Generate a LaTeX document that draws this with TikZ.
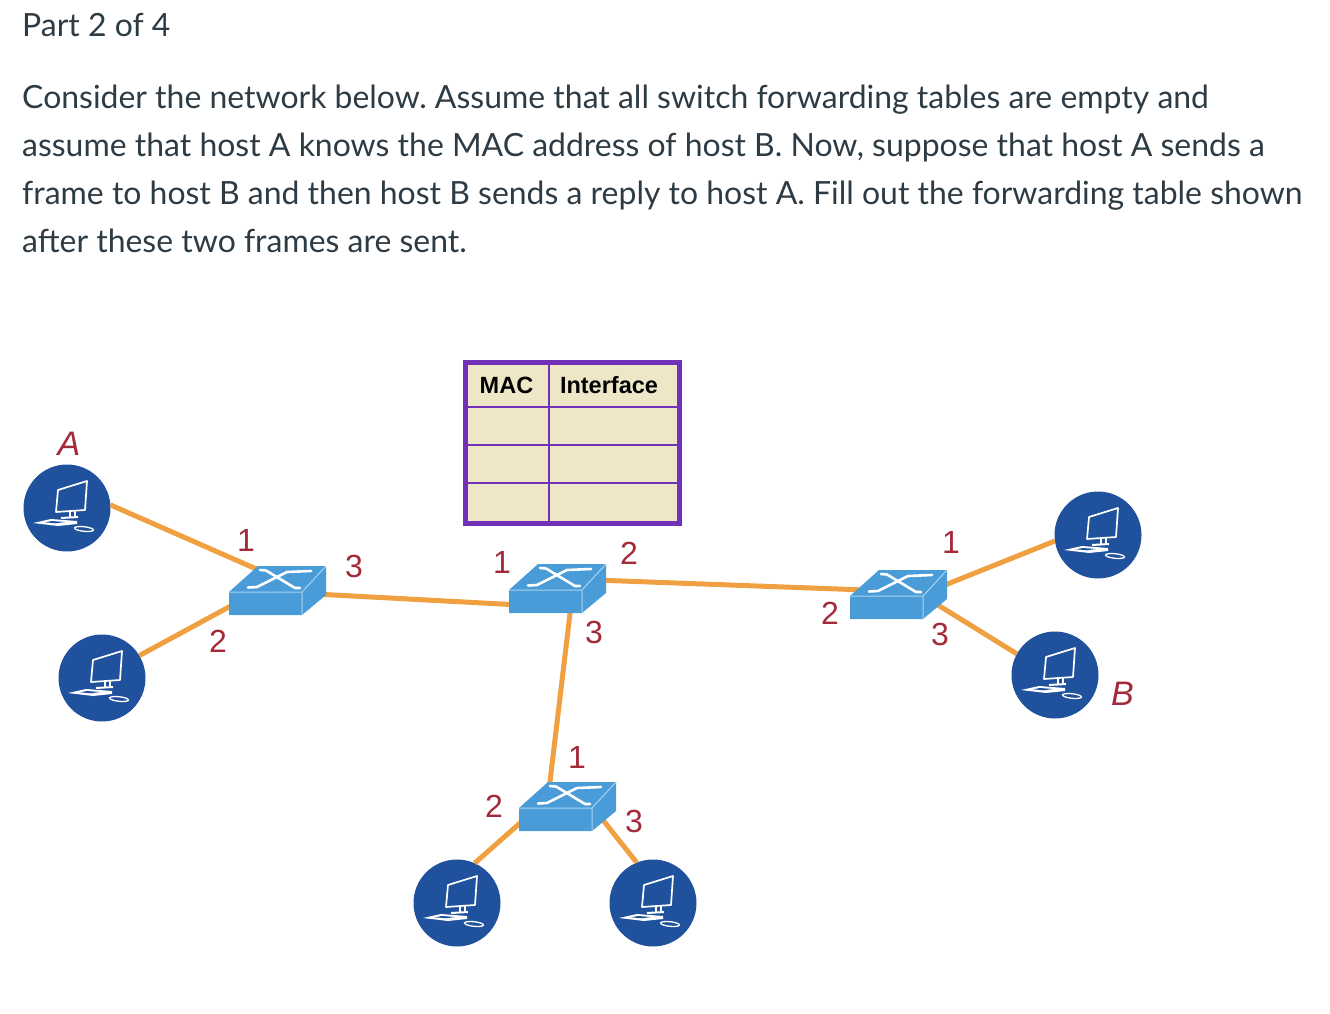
\documentclass[tikz,border=0pt]{standalone}
\usepackage{fontspec}
\setmainfont{Lato}
\newfontfamily\arialf{Liberation Sans}
\definecolor{txt}{HTML}{2D3B45}
\definecolor{lbl}{HTML}{A32A38}
\definecolor{hostc}{HTML}{20519C}
\definecolor{wire}{HTML}{F0A040}
\definecolor{swc}{HTML}{4A9CD8}
\definecolor{swl}{HTML}{A8D4F0}
\definecolor{tbf}{HTML}{EDE7C8}
\definecolor{tbl}{HTML}{7030B8}
\tikzset{
  para/.style={anchor=base west,inner sep=0pt,text=txt,font=\frenchspacing\fontsize{31.95}{32}\selectfont},
  num/.style={inner sep=0pt,text=lbl,font=\arialf\fontsize{32}{32}\selectfont},
  hostname/.style={inner sep=0pt,text=lbl,font=\arialf\itshape\fontsize{34}{34}\selectfont},
  host/.style={circle,fill=hostc,minimum size=87pt,inner sep=0pt},
  wirestyle/.style={draw=wire,line width=5pt},
  port/.style={inner sep=0pt,minimum size=0pt},
  head/.style={inner sep=0pt,text=black,font=\arialf\bfseries\fontsize{23.5}{24}\selectfont},
  pics/computer/.style={code={
    \draw[white,line width=1.7pt,line join=round] (-9,-18) -- (20,-27) -- (18,2) -- (-11,4) -- cycle;
    \draw[white,line width=1.5pt] (3,3) -- (3,9) (8,3) -- (8,9);
    \draw[white,line width=2pt] (-6,10) -- (11,9);
    \fill[white] (-34,15) -- (-16,11) -- (10,13) -- (10,16) -- (-9,18) -- cycle;
    \fill[hostc] (-22,14.3) -- (-15,13) -- (-2,14) -- (-11,15.3) -- cycle;
    \draw[white,line width=1.3pt] (17,21) ellipse[x radius=9.5,y radius=2.3,rotate=-6];
  }},
  pics/switch/.style={code={
    \fill[swc] (0,0) -- (29,-26) -- (97,-26) -- (97,3) -- (73,23) -- (0,23) -- cycle;
    \draw[swl,line width=1pt,line join=round] (0,0) -- (73,0) -- (97,-26) (73,0) -- (73,23);
    \draw[white,line width=2.6pt,line cap=round,line join=round] (19,-4.5) -- (28,-5) -- (58,-20) -- (82,-21);
    \draw[white,line width=2.6pt,line cap=round,line join=round] (31,-22) -- (37,-21.5) -- (66,-4) -- (71,-4);
  }}
}
\begin{document}
\begin{tikzpicture}[x=1pt,y=-1pt]
\useasboundingbox (0,0) rectangle (1330,1014);
% text
\node[para] (t0) at (22,37) {Part 2 of 4};
\node[para] (t1) at (22,109) {Consider the network below. Assume that all switch forwarding tables are empty and};
\node[para] (t2) at (22,157) {assume that host A knows the MAC address of host B. Now, suppose that host A sends a};
\node[para] (t3) at (22,204.5) {frame to host B and then host B sends a reply to host A. Fill out the forwarding table shown};
\node[para] (t4) at (22,252.5) {after these two frames are sent.};
% hosts
\node[host] (hA) at (67,508) {}; \pic at (hA) {computer};
\node[host] (hL) at (102,678) {}; \pic at (hL) {computer};
\node[host] (hR) at (1098,535) {}; \pic at (hR) {computer};
\node[host] (hB) at (1055,675) {}; \pic at (hB) {computer};
\node[host] (hM) at (457,903) {}; \pic at (hM) {computer};
\node[host] (hN) at (653,903) {}; \pic at (hN) {computer};
% switch ports
\node[port] (s1a) at (270,575) {};
\node[port] (s1b) at (240,601) {};
\node[port] (s1c) at (315,594) {};
\node[port] (s2a) at (520,605) {};
\node[port] (s2b) at (595,580) {};
\node[port] (s2c) at (571,605) {};
\node[port] (s3a) at (865,590) {};
\node[port] (s3b) at (935,589) {};
\node[port] (s3c) at (925,597) {};
\node[port] (s4a) at (549,790) {};
\node[port] (s4b) at (528,816) {};
\node[port] (s4c) at (595,810) {};
% connectors
\draw[wirestyle] (hA.4) -- (s1a);
\draw[wirestyle] (hL.31) -- (s1b);
\draw[wirestyle] (s1c) -- (s2a);
\draw[wirestyle] (s2b) -- (s3a);
\draw[wirestyle] (s2c) -- (s4a);
\draw[wirestyle] (s3b) -- (hR.188);
\draw[wirestyle] (s3c) -- (hB.151);
\draw[wirestyle] (s4b) -- (hM.66);
\draw[wirestyle] (s4c) -- (hN.112);
% switches
\pic (s1) at (229,592) {switch};
\pic (s2) at (509,590) {switch};
\pic (s3) at (850,596) {switch};
\pic (s4) at (519,808) {switch};
% table
\draw[fill=tbf,draw=tbl,line width=5pt] (465,362.5) rectangle (679,523);
\draw[tbl,line width=1.5pt] (549,365) -- (549,521) (467,407) -- (677,407) (467,445) -- (677,445) (467,483) -- (677,483);
\node[head] (hmac) at (506.5,385) {MAC};
\node[head] (hint) at (609,385) {Interface};
% labels
\node[hostname] (la) at (69,444) {A};
\node[hostname] (lb) at (1122.5,694) {B};
\node[num] (n1) at (246,540) {1};
\node[num] (n2) at (218,641) {2};
\node[num] (n3) at (354,566) {3};
\node[num] (n4) at (502,562) {1};
\node[num] (n5) at (629,553) {2};
\node[num] (n6) at (594,632) {3};
\node[num] (n7) at (830,613) {2};
\node[num] (n8) at (951,542) {1};
\node[num] (n9) at (940,634) {3};
\node[num] (n10) at (577,757) {1};
\node[num] (n11) at (494,806) {2};
\node[num] (n12) at (634,821) {3};
\end{tikzpicture}
\end{document}
